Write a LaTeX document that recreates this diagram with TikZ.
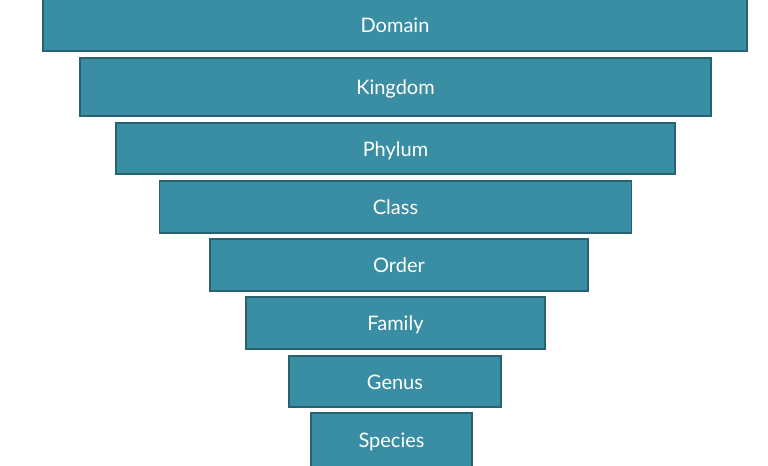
\documentclass[tikz,border=0pt]{standalone}
\usepackage{fontspec}
\setmainfont{Lato}
\usepackage{xcolor}
\definecolor{rankfill}{RGB}{58,142,163}
\definecolor{rankline}{RGB}{38,98,113}

\begin{document}
\begin{tikzpicture}[x=0.75pt,y=0.75pt,yscale=-1,xscale=1,
  rankbox/.style={draw=rankline, line width=1.2pt, fill=rankfill, text=white, inner sep=0pt,
    text height=11.5pt, text depth=0pt, font=\fontsize{15}{17}\selectfont}]
\useasboundingbox (0,0) rectangle (768,466);

%Shape: Rectangle (domain)
\node [rankbox, minimum width=704*0.75pt, minimum height=52*0.75pt] (domain) at (395,25) {Domain};
%Shape: Rectangle (kingdom)
\node [rankbox, minimum width=631*0.75pt, minimum height=58*0.75pt] (kingdom) at (395.5,87) {Kingdom};
%Shape: Rectangle (phylum)
\node [rankbox, minimum width=559*0.75pt, minimum height=51*0.75pt] (phylum) at (395.5,148.5) {Phylum};
%Shape: Rectangle (class)
\node [rankbox, minimum width=472*0.75pt, minimum height=52*0.75pt] (class) at (395.5,207) {Class};
%Shape: Rectangle (order)
\node [rankbox, minimum width=378*0.75pt, minimum height=52*0.75pt] (order) at (399,265) {Order};
%Shape: Rectangle (family)
\node [rankbox, minimum width=299*0.75pt, minimum height=52*0.75pt] (family) at (395.5,323) {Family};
%Shape: Rectangle (genus)
\node [rankbox, minimum width=212*0.75pt, minimum height=51*0.75pt] (genus) at (395,381.5) {Genus};
%Shape: Rectangle (species)
\node [rankbox, minimum width=161*0.75pt, minimum height=54*0.75pt] (species) at (391.5,440) {Species};

\end{tikzpicture}
\end{document}
